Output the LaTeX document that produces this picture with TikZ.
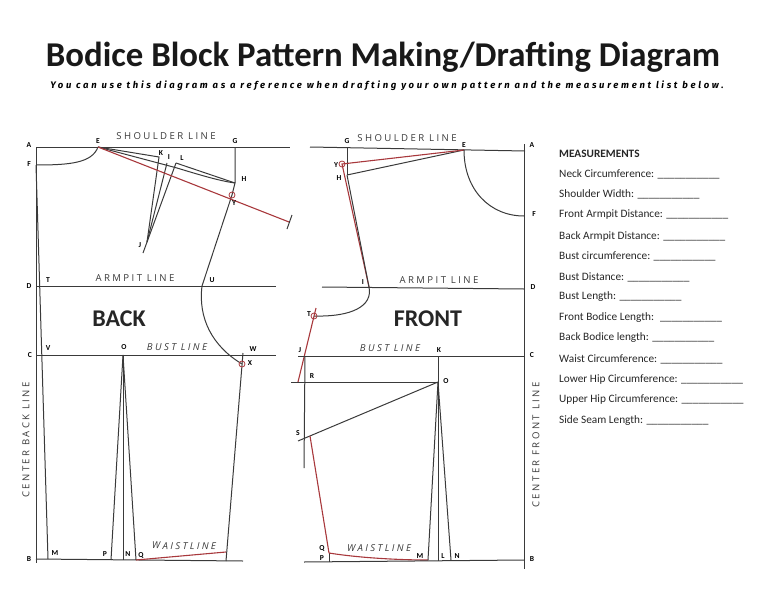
\documentclass[tikz,border=0pt]{standalone}
\usepackage{fontspec}
\setmainfont{Carlito}
\newfontfamily\linefont[LetterSpace=25]{Open Sans}
\newfontfamily\handfont[LetterSpace=28.4]{Fira Sans}
\usetikzlibrary{positioning}
\definecolor{inkc}{HTML}{3A3A3A}
\definecolor{redc}{HTML}{A8383C}
\newcommand{\blank}{\_\_\_\_\_\_\_\_\_\_\_}
\tikzset{
  pat/.style={draw=inkc, line width=1pt},
  redpat/.style={draw=redc, line width=1.1pt},
  pt/.style={font=\bfseries\fontsize{7.6}{8}\selectfont, inner sep=0pt, text=black},
  linename/.style={font=\linefont\fontsize{9.6}{10}\selectfont, inner sep=0pt, text=inkc},
  slantname/.style={font=\linefont\itshape\fontsize{9.6}{10}\selectfont, inner sep=0pt, text=inkc},
  bigname/.style={inner sep=0pt, font=\bfseries\fontsize{24}{28}\selectfont, text=black!85},
  mlabel/.style={font=\fontsize{11.3}{13}\selectfont, inner sep=0pt, anchor=west, text=black!85},
  mark circle/.style={draw=redc, line width=0.8pt, fill=none, circle, minimum size=6pt, inner sep=0pt}
}
\begin{document}
\begin{tikzpicture}[x=1pt, y=-1pt]
  \useasboundingbox (0,0) rectangle (768,594);
  % title
  \node [inner sep=0pt, text=black!90, font=\bfseries\fontsize{34.8}{38}\selectfont] (title) at (383,57)
  {Bodice Block Pattern Making/Drafting Diagram};
  \node [inner sep=0pt, font=\handfont\bfseries\itshape\fontsize{9.5}{10}\selectfont] (subtitle) at (387,86)
  {You can use this diagram as a reference when drafting your own pattern and the measurement list below.};

  % back points
  \coordinate (bA) at (36,147);
  \coordinate (bAr) at (290,147);
  \coordinate (bE) at (98,147);
  \coordinate (bF) at (36,165);
  \coordinate (bG) at (235,147);
  \coordinate (bH) at (235,183);
  \coordinate (bY) at (232,195);
  \coordinate (bEnd) at (289,222);
  \coordinate (bTa) at (292,215);
  \coordinate (bTb) at (287,229);
  \coordinate (bK) at (159,157);
  \coordinate (bI) at (167,163);
  \coordinate (bL) at (176,163);
  \coordinate (bLs) at (177,168);
  \coordinate (bJ) at (147,242);
  \coordinate (bJe) at (143,253);
  \coordinate (bD) at (36,286);
  \coordinate (bDr) at (276,286);
  \coordinate (bU) at (202,286);
  \coordinate (bC) at (36,355);
  \coordinate (bCr) at (276,355);
  \coordinate (bO) at (123,355);
  \coordinate (bW) at (243,353);
  \coordinate (bX) at (242,364);
  \coordinate (bB) at (36,559);
  \coordinate (bBr) at (243,561);
  \coordinate (bM) at (48,559);
  \coordinate (bP) at (111,560);
  \coordinate (bN) at (123,560);
  \coordinate (bQ) at (136,560);
  \coordinate (bS) at (226,561);
  \coordinate (bSu) at (226,552);
  \coordinate (bBt) at (36,563);

  % back lines
  \draw [pat] (bA) -- (bAr);
  \draw [pat] (bA) -- (bBt);
  \draw [pat] (bF) .. controls (70,165) and (92,163) .. (bE);
  \draw [pat] (bF) -- (bM);
  \draw [pat] (bG) -- (bH) -- (bY) -- (bU);
  \draw [pat] (bE) -- (bK) -- (bJ);
  \draw [pat] (bI) -- (bJ);
  \draw [pat] (bL) -- (bJe);
  \draw [pat] (bL) -- (bH);
  \draw [pat] (bE) -- (bLs) .. controls (200,175) and (220,181) .. (bH);
  \draw [redpat] (bE) -- (bEnd);
  \draw [pat] (bTa) -- (bTb);
  \node [mark circle] (bYc) at (bY) {};
  \draw [pat] (bD) -- (bDr);
  \draw [pat] (bC) -- (bCr);
  \draw [pat] (bU) .. controls (198,318) and (212,346) .. (bX);
  \draw [pat] (bW) -- (bS);
  \node [mark circle] (bXc) at (bX) {};
  \draw [pat] (bB) -- (bBr);
  \draw [pat] (bO) -- (bP);
  \draw [pat] (bO) -- (bN);
  \draw [pat] (bO) -- (bQ);
  \draw [redpat] (bQ) -- (bSu);

  % front points
  \coordinate (fGl) at (310,147);
  \coordinate (fA) at (525,151);
  \coordinate (fAt) at (524,144);
  \coordinate (fBb) at (524,569);
  \coordinate (fG) at (347,148);
  \coordinate (fH) at (347,175);
  \coordinate (fE) at (464,150);
  \coordinate (fY) at (342,164);
  \coordinate (fI) at (369,287);
  \coordinate (fT) at (314,316);
  \coordinate (fTa) at (316,308);
  \coordinate (fTb) at (298,382);
  \coordinate (fF) at (524,216);
  \coordinate (fDl) at (322,287);
  \coordinate (fD) at (524,289);
  \coordinate (fCl) at (298,356);
  \coordinate (fC) at (524,356);
  \coordinate (fK) at (438,356);
  \coordinate (fL) at (438,561);
  \coordinate (fO) at (438,382);
  \coordinate (fRl) at (291,382);
  \coordinate (fJ) at (305,356);
  \coordinate (fJb) at (304,468);
  \coordinate (fS) at (298,441);
  \coordinate (fSr) at (310,436);
  \coordinate (fQ) at (329,553);
  \coordinate (fP) at (329,562);
  \coordinate (fM) at (428,560);
  \coordinate (fN) at (451,560);
  \coordinate (fBl) at (304,562);
  \coordinate (fB) at (524,560);

  % front lines
  \draw [pat] (fGl) -- (fA);
  \draw [pat] (fAt) -- (fBb);
  \draw [pat] (fG) -- (fH);
  \draw [pat] (fH) -- (fE);
  \draw [redpat] (fE) -- (fY) -- (fI);
  \draw [pat] (fH) -- (fI);
  \draw [pat] (fI) .. controls (373,306) and (352,317) .. (fT);
  \draw [redpat] (fTa) -- (fTb);
  \node [mark circle] (fYc) at (fY) {};
  \node [mark circle] (fTc) at (fT) {};
  \draw [pat] (fE) .. controls (464,190) and (490,216) .. (fF);
  \draw [pat] (fDl) -- (fD);
  \draw [pat] (fCl) -- (fC);
  \draw [pat] (fK) -- (fL);
  \draw [pat] (fRl) -- (fO);
  \draw [pat] (fJ) -- (fJb);
  \draw [pat] (fS) -- (fO);
  \draw [redpat] (fSr) -- (fQ);
  \draw [pat] (fQ) -- (fP);
  \draw [redpat] (fQ) .. controls (360,558) and (400,560) .. (fM);
  \draw [pat] (fBl) -- (fB);
  \draw [pat] (fO) -- (fM);
  \draw [pat] (fO) -- (fN);

  % back labels
  \node [pt] (lbA) at (29,145) {A};
  \node [pt] (lbF) at (29,164) {F};
  \node [pt] (lbE) at (98,141) {E};
  \node [pt] (lbG) at (235,141) {G};
  \node [pt] (lbK) at (161,153) {K};
  \node [pt] (lbI) at (169,157) {I};
  \node [pt] (lbL) at (182,158) {L};
  \node [pt] (lbH) at (244,179) {H};
  \node [pt] (lbY) at (234,203) {Y};
  \node [pt] (lbJ) at (140,245) {J};
  \node [pt] (lbT) at (48,280) {T};
  \node [pt] (lbU) at (212,280) {U};
  \node [pt] (lbD) at (29,286) {D};
  \node [pt] (lbC) at (30,355) {C};
  \node [pt] (lbV) at (48,348) {V};
  \node [pt] (lbO) at (124,347) {O};
  \node [pt] (lbW) at (253,349) {W};
  \node [pt] (lbX) at (250,363) {X};
  \node [pt] (lbM) at (55,553) {M};
  \node [pt] (lbP) at (105,554) {P};
  \node [pt] (lbN) at (128,554) {N};
  \node [pt] (lbQ) at (141,555) {Q};
  \node [pt] (lbB) at (29,559) {B};

  % front labels
  \node [pt] (lfG) at (347,141) {G};
  \node [pt] (lfY) at (336,165) {Y};
  \node [pt] (lfH) at (339,178) {H};
  \node [pt] (lfE) at (464,145) {E};
  \node [pt] (lfA) at (532,145) {A};
  \node [pt] (lfF) at (534,214) {F};
  \node [pt] (lfI) at (363,282) {I};
  \node [pt] (lfD) at (533,287) {D};
  \node [pt] (lfT) at (309,314) {T};
  \node [pt] (lfJ) at (300,350) {J};
  \node [pt] (lfK) at (439,350) {K};
  \node [pt] (lfC) at (532,355) {C};
  \node [pt] (lfR) at (312,376) {R};
  \node [pt] (lfO) at (446,381) {O};
  \node [pt] (lfS) at (298,433) {S};
  \node [pt] (lfQ) at (322,548) {Q};
  \node [pt] (lfP) at (322,558) {P};
  \node [pt] (lfM) at (420,556) {M};
  \node [pt] (lfL) at (443,556) {L};
  \node [pt] (lfN) at (457,556) {N};
  \node [pt] (lfB) at (532,559) {B};

  % line names
  \node [linename] (bshoulder) at (166,136) {SHOULDER LINE};
  \node [linename] (barmpit) at (135,278) {ARMPIT LINE};
  \node [slantname] (bbust) at (177,347) {BUST LINE};
  \node [slantname, rotate=-1] (bwaist) at (184,546) {WAISTLINE};
  \node [linename, rotate=90] (bcenter) at (26,440) {CENTER BACK LINE};
  \node [linename] (fshoulder) at (407,138) {SHOULDER LINE};
  \node [linename] (farmpit) at (439,280) {ARMPIT LINE};
  \node [slantname] (fbust) at (390,348) {BUST LINE};
  \node [slantname] (fwaist) at (379,548) {WAISTLINE};
  \node [linename, rotate=90] (fcenter) at (536,445) {CENTER FRONT LINE};
  \node [bigname] (back) at (119,319) {BACK};
  \node [bigname] (front) at (428,319) {FRONT};

  % measurements
  \node [mlabel, font=\bfseries\fontsize{11.3}{13}\selectfont] (m0) at (559,153.5) {MEASUREMENTS};
  \node [mlabel] (m1) at (559,174) {Neck Circumference: \blank};
  \node [mlabel] (m2) at (559,194) {Shoulder Width: \blank};
  \node [mlabel] (m3) at (559,215) {Front Armpit Distance: \blank};
  \node [mlabel] (m4) at (559,236) {Back Armpit Distance: \blank};
  \node [mlabel] (m5) at (559,256) {Bust circumference: \blank};
  \node [mlabel] (m6) at (559,277) {Bust Distance: \blank};
  \node [mlabel] (m7) at (559,297) {Bust Length: \blank};
  \node [mlabel] (m8) at (559,318) {Front Bodice Length: \ \blank};
  \node [mlabel] (m9) at (559,338) {Back Bodice length: \blank};
  \node [mlabel] (m10) at (559,359) {Waist Circumference: \blank};
  \node [mlabel] (m11) at (559,380) {Lower Hip Circumference: \blank};
  \node [mlabel] (m12) at (559,400) {Upper Hip Circumference: \blank};
  \node [mlabel] (m13) at (559,421) {Side Seam Length: \blank};
\end{tikzpicture}
\end{document}
